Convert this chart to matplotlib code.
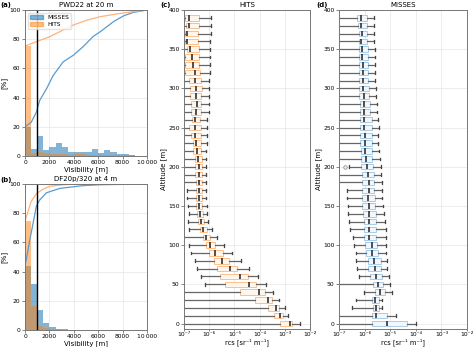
import numpy as np
import matplotlib
matplotlib.use("Agg")
import matplotlib.pyplot as plt
from matplotlib.patches import Patch

# ---------------- data ----------------
vis_edges = np.arange(0, 10001, 500)
# panel (a) PWD22 at 20 m, histogram heights [%] per 500 m bin
a_miss = [20, 5, 13.5, 4, 6, 9, 6, 2.5, 3, 2.5, 3, 5, 2, 4, 3, 1.5, 1.5, 1, 0, 0]
a_hit = [75.5, 2, 3, 2, 1.5, 1.5, 1.5, 1, 1.5, 1.5, 1, 1, 1, 1, 1, 0.5, 0.5, 0.5, 0, 0]
a_cdf_x = [0, 500, 934, 1200, 1760, 2300, 3130, 3960, 4780, 5600, 6150, 7250, 8080, 8900, 10000]
a_cdf_miss = [20, 23, 30, 38, 46, 55, 64.5, 69, 75, 82, 85, 92, 96, 98.4, 100]
a_cdf_x2 = [0, 934, 2030, 3130, 3960, 5050, 6150, 7530, 8900, 10000]
a_cdf_hit = [75.3, 78.3, 81.7, 86.3, 89.7, 93, 95.4, 97.3, 98.9, 100]
# panel (b) DF20p/320 at 4 m
b_miss = [43.5, 31.5, 14, 5, 2, 1, 0.5, 0.3, 0.2, 0, 0, 0, 0, 0, 0, 0, 0, 0, 0, 0]
b_hit = [74.5, 16.3, 3, 1.5, 1, 0.5, 0.3, 0.2, 0, 0, 0, 0, 0, 0, 0, 0, 0, 0, 0, 0]
b_cdf_x = [0, 400, 660, 934, 1200, 1760, 2860, 4780, 6150, 10000]
b_cdf_miss = [43.5, 62, 73, 85, 89, 94, 97, 98.9, 99.5, 100]
b_cdf_x2 = [0, 500, 934, 1500, 2030, 3000, 4000, 10000]
b_cdf_hit = [74.5, 88, 93.4, 96.5, 98.5, 99.3, 100, 100]
threshold = 1000

altitudes = np.arange(0, 400, 10)
rcs_ticks = [1e-7, 1e-6, 1e-5, 1e-4, 1e-3, 1e-2]
rcs_ticklabels = ['10\u207b\u2077', '10\u207b\u2076', '10\u207b\u2075',
                  '10\u207b\u2074', '10\u207b\u00b3', '10\u207b\u00b2']
# HITS (c): log10 rcs statistics per altitude (0..390 m)
hits_med = [-2.80, -3.18, -3.36, -3.68, -4.02, -4.42, -4.79, -5.16, -5.48, -5.78,
            -5.98, -6.13, -6.24, -6.33, -6.38, -6.40, -6.42, -6.42, -6.42, -6.42,
            -6.42, -6.46, -6.49, -6.52, -6.56, -6.56, -6.56, -6.52, -6.49, -6.52,
            -6.52, -6.56, -6.56, -6.63, -6.69, -6.76, -6.87, -6.87, -6.82, -6.79]
hits_q1 = [-3.20, -3.44, -3.68, -4.18, -4.78, -5.36, -5.58, -5.68, -5.82, -6.00,
           -6.12, -6.25, -6.36, -6.46, -6.49, -6.52, -6.52, -6.53, -6.53, -6.56,
           -6.56, -6.56, -6.63, -6.65, -6.73, -6.79, -6.68, -6.72, -6.72, -6.76,
           -6.76, -6.79, -6.96, -6.96, -6.96, -6.87, -6.96, -6.96, -6.92, -6.96]
hits_q3 = [-2.70, -3.06, -3.24, -3.50, -3.80, -4.13, -4.46, -4.90, -5.20, -5.45,
           -5.76, -5.96, -6.10, -6.22, -6.25, -6.29, -6.29, -6.29, -6.29, -6.29,
           -6.29, -6.29, -6.33, -6.33, -6.33, -6.33, -6.36, -6.33, -6.33, -6.32,
           -6.29, -6.33, -6.36, -6.42, -6.42, -6.42, -6.46, -6.46, -6.42, -6.42]
hits_lo = [-8, -8, -8, -8, -8, -6.18, -6.34, -6.48, -6.58, -6.72,
           -6.79, -8, -6.80, -6.86, -6.80, -6.85, -6.89, -6.89, -8, -8,
           -8, -8, -8, -8, -8, -8, -8, -8, -8, -8,
           -8, -8, -8, -8, -8, -8, -8, -8, -8, -8]
hits_hi = [-2.40, -2.86, -3.00, -3.22, -3.45, -3.74, -4.06, -4.42, -4.74, -5.08,
           -5.41, -5.69, -5.90, -6.06, -6.09, -6.10, -6.12, -6.12, -6.12, -6.12,
           -6.12, -6.12, -6.12, -6.09, -6.09, -6.09, -6.09, -6.02, -6.02, -6.02,
           -6.01, -6.01, -5.98, -5.98, -5.98, -5.98, -5.96, -5.93, -5.93, -5.93]
# MISSES (d)
miss_med = [-5.11, -5.54, -5.57, -5.60, -5.40, -5.48, -5.54, -5.60, -5.64, -5.70,
            -5.73, -5.81, -5.84, -5.84, -5.84, -5.84, -5.86, -5.84, -5.84, -5.86,
            -5.90, -5.94, -5.97, -5.99, -5.99, -6.01, -6.03, -6.03, -6.03, -6.03,
            -6.06, -6.06, -6.07, -6.07, -6.10, -6.10, -6.13, -6.10, -6.13, -6.13]
miss_q1 = [-5.73, -5.73, -5.68, -5.73, -5.60, -5.68, -5.77, -5.86, -5.86, -5.94,
           -5.97, -6.03, -6.03, -6.03, -6.07, -6.10, -6.10, -6.10, -6.10, -6.10,
           -6.13, -6.13, -6.13, -6.17, -6.17, -6.17, -6.17, -6.19, -6.19, -6.21,
           -6.21, -6.21, -6.21, -6.21, -6.21, -6.23, -6.23, -6.23, -6.26, -6.30]
miss_q3 = [-4.34, -5.13, -5.44, -5.44, -5.20, -5.28, -5.31, -5.37, -5.37, -5.48,
           -5.50, -5.54, -5.54, -5.54, -5.57, -5.60, -5.60, -5.64, -5.64, -5.64,
           -5.68, -5.70, -5.70, -5.73, -5.70, -5.70, -5.73, -5.77, -5.80, -5.84,
           -5.84, -5.86, -5.86, -5.88, -5.88, -5.88, -5.90, -5.90, -5.90, -5.90]
miss_lo = [-8, -8, -6.50, -6.34, -6.03, -8, -6.21, -6.30, -6.33, -6.34,
           -6.43, -6.47, -6.56, -6.60, -6.63, -6.66, -6.70, -6.70, -8, -8,
           -6.60, -8, -8, -8, -8, -8, -8, -8, -8, -8,
           -8, -8, -8, -8, -8, -8, -8, -8, -8, -8]
miss_hi = [-3.98, -4.78, -5.33, -5.33, -4.94, -5.02, -5.04, -5.11, -5.11, -5.15,
           -5.17, -5.17, -5.17, -5.22, -5.24, -5.28, -5.31, -5.31, -5.33, -5.37,
           -5.37, -5.41, -5.44, -5.47, -5.47, -5.44, -5.47, -5.51, -5.51, -5.54,
           -5.57, -5.60, -5.60, -5.60, -5.61, -5.61, -5.64, -5.64, -5.64, -5.64]
miss_fliers = {200: [-6.78]}

# ---------------- styling ----------------
plt.rcParams['font.family'] = ['DejaVu Sans']
FS_T = 4.3
FS_L = 5.0
BLUE = '#1f77b4'
ORANGE = '#ff7f0e'

fig = plt.figure(figsize=(4.74, 3.47), dpi=100)

def style(ax):
    ax.grid(True, color='#e6e6e6', lw=0.5)
    ax.set_axisbelow(True)
    for s in ax.spines.values():
        s.set_color('#777777')
        s.set_linewidth(0.7)
    ax.tick_params(labelsize=FS_T, length=2, width=0.5, pad=1.2, color='#555555')

def hist_panel(ax, miss, hit, cx1, cm, cx2, ch, title, legend=False):
    style(ax)
    w = np.diff(vis_edges)
    ax.bar(vis_edges[:-1], miss, width=w, align='edge', color=BLUE, alpha=0.55, lw=0)
    ax.bar(vis_edges[:-1], hit, width=w, align='edge', color=ORANGE, alpha=0.5, lw=0)
    ax.plot(cx1, cm, color='#5a9bd0', lw=0.9)
    ax.plot(cx2, ch, color='#ffb27a', lw=0.9)
    ax.axvline(threshold, color='black', lw=1.0)
    ax.set_xlim(0, 10000)
    ax.set_ylim(0, 100)
    ax.set_xticks([0, 2000, 4000, 6000, 8000, 10000])
    ax.set_xticklabels(['0', '2000', '4000', '6000', '8000', '10\u2009000'])
    ax.set_yticks([0, 20, 40, 60, 80, 100])
    ax.set_xlabel('Visibility [m]', fontsize=FS_L, labelpad=0.5)
    ax.set_ylabel('[%]', fontsize=FS_L, labelpad=1)
    ax.set_title(title, fontsize=FS_L, pad=2)
    if legend:
        handles = [Patch(color=BLUE, alpha=0.55, label='MISSES'),
                   Patch(color=ORANGE, alpha=0.5, label='HITS')]
        ax.legend(handles=handles, loc='upper left', fontsize=4.2, frameon=True,
                  handlelength=2.2, handleheight=0.8, borderpad=0.3, labelspacing=0.3,
                  framealpha=0.8, edgecolor='#dddddd')

axa = fig.add_axes([25/474, 1-156/347, 122/474, 146/347])
hist_panel(axa, a_miss, a_hit, a_cdf_x, a_cdf_miss, a_cdf_x2, a_cdf_hit, 'PWD22 at 20 m', legend=True)
axb = fig.add_axes([25/474, 1-330/347, 122/474, 146/347])
hist_panel(axb, b_miss, b_hit, b_cdf_x, b_cdf_miss, b_cdf_x2, b_cdf_hit, 'DF20p/320 at 4 m')

BOT = 329  # bottom spine of (c)/(d) in pixels from top

def box_panel(ax, med, q1, q3, lo, hi, edge, face, title, fliers=None):
    style(ax)
    stats = []
    for i, alt in enumerate(altitudes):
        fl = 10.0 ** np.array(fliers.get(alt, [])) if fliers else np.array([])
        stats.append(dict(med=10**med[i], q1=10**q1[i], q3=10**q3[i],
                          whislo=10**lo[i], whishi=10**hi[i], fliers=fl))
    ax.set_xscale('log')
    ax.bxp(stats, positions=altitudes, widths=7, vert=False, patch_artist=True,
           manage_ticks=False,
           boxprops=dict(facecolor=face, edgecolor=edge, lw=0.7),
           whiskerprops=dict(color='#666666', lw=0.9),
           capprops=dict(color='#444444', lw=0.9),
           medianprops=dict(color='#222222', lw=1.1),
           flierprops=dict(marker='o', markersize=2.5, markerfacecolor='none',
                           markeredgecolor='#777777', markeredgewidth=0.5))
    ax.set_xlim(1e-7, 1e-2)
    ax.set_ylim(-7, 400)
    ax.set_yticks(np.arange(0, 401, 50))
    ax.set_xticks(rcs_ticks)
    ax.set_xticklabels(rcs_ticklabels)
    ax.minorticks_off()
    ax.tick_params(axis='x', labelsize=4.3, pad=0.8, length=1.5)
    ax.set_xlabel('rcs [sr\u207b\u00b9 m\u207b\u00b9]', fontsize=4.8)
    h = (BOT - 10)
    ax.xaxis.set_label_coords(0.5, -(347 - BOT - 0.5) / h)
    ax.xaxis.label.set_va('bottom')
    ax.set_ylabel('Altitude [m]', fontsize=FS_L, labelpad=1)
    ax.set_title(title, fontsize=FS_L, pad=2)

axc = fig.add_axes([184/474, 1-BOT/347, 126/474, (BOT-10)/347])
box_panel(axc, hits_med, hits_q1, hits_q3, hits_lo, hits_hi, '#fdc08c', '#fff6ee', 'HITS')
axd = fig.add_axes([339/474, 1-BOT/347, 128/474, (BOT-10)/347])
box_panel(axd, miss_med, miss_q1, miss_q3, miss_lo, miss_hi, '#a9cce6', '#f1f7fc', 'MISSES', miss_fliers)

for lab, x, y in [('(a)', 0/474, 1-5/347), ('(b)', 0/474, 1-180/347),
                  ('(c)', 160/474, 1-5/347), ('(d)', 316/474, 1-5/347)]:
    fig.text(x, y, lab, fontsize=5.0, fontweight='bold', va='center', ha='left')

fig.savefig('out.png', dpi=100)
